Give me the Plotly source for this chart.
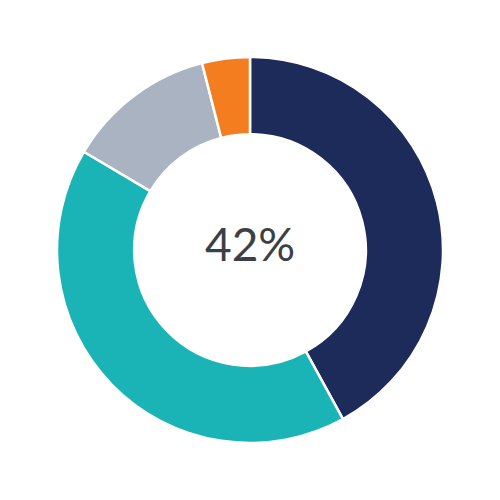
import plotly.graph_objects as go

# slice values (percent), clockwise from 12 o'clock
labels = ["Navy", "Teal", "Gray", "Orange"]
values = [42, 41.5, 12.5, 4]
colors = ["#1c2b5a", "#1bb4b6", "#a9b3c1", "#f47d20"]
center_label = "42%"

fig = go.Figure(go.Pie(
    labels=labels,
    values=values,
    hole=0.6,
    sort=False,
    direction="clockwise",
    rotation=0,
    textinfo="none",
    hoverinfo="label+percent",
    marker=dict(colors=colors, line=dict(color="white", width=2.5)),
))

fig.add_annotation(
    text=center_label, x=0.5, y=0.5, xref="paper", yref="paper",
    showarrow=False, yshift=7,
    font=dict(family="Lato", size=46, color="#3b4046"),
)

# page body adds 8px offset, so shift margins to keep the ring centred
fig.update_layout(
    width=500, height=500,
    margin=dict(l=49, r=65, t=49, b=65),
    showlegend=False,
    paper_bgcolor="white",
    plot_bgcolor="white",
)

fig.write_html("out.html")
